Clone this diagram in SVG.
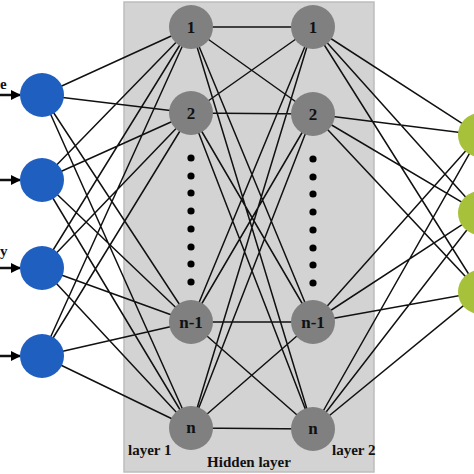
<svg xmlns="http://www.w3.org/2000/svg" width="474" height="474" viewBox="0 0 474 474">
<defs>
<style>
.box{fill:#d3d3d3;stroke:#bdbdbd;stroke-width:1.5}
.e{stroke:#111;stroke-width:1.5;fill:none}
.in{fill:#1f5fc0}
.hid{fill:#808080}
.out{fill:#a7c23a}
.dot{fill:#000}
.t{font-family:"Liberation Serif","Times New Roman",serif;font-weight:bold;font-size:15px;fill:#111}
.n{font-size:17px;text-anchor:middle}
.c{text-anchor:middle}
</style>
<marker id="ah" viewBox="0 0 10 10" refX="9" refY="5" markerWidth="4" markerHeight="4" orient="auto" markerUnits="strokeWidth">
<path d="M0,0 L10,5 L0,10 z" fill="#000"/>
</marker>
</defs>
<rect class="box" x="124" y="2" width="250" height="470"/>
<g id="connectors" class="e">
<line x1="0" y1="95" x2="20" y2="95" stroke-width="2.5" marker-end="url(#ah)"/>
<line x1="0" y1="180" x2="20" y2="180" stroke-width="2.5" marker-end="url(#ah)"/>
<line x1="0" y1="268" x2="20" y2="268" stroke-width="2.5" marker-end="url(#ah)"/>
<line x1="0" y1="356" x2="20" y2="356" stroke-width="2.5" marker-end="url(#ah)"/>
<path d="M42,95L191,27M42,95L191,113M42,95L191,322M42,95L191,428
M42,180L191,27M42,180L191,113M42,180L191,322M42,180L191,428
M42,268L191,27M42,268L191,113M42,268L191,322M42,268L191,428
M42,356L191,27M42,356L191,113M42,356L191,322M42,356L191,428"/>
<path d="M191,27L313,27M191,27L313,114M191,27L313,322M191,27L313,429
M191,113L313,27M191,113L313,114M191,113L313,322M191,113L313,429
M191,322L313,27M191,322L313,114M191,322L313,322M191,322L313,429
M191,428L313,27M191,428L313,114M191,428L313,322M191,428L313,429"/>
<path d="M313,27L480,135M313,27L480,213M313,27L480,292
M313,114L480,135M313,114L480,213M313,114L480,292
M313,322L480,135M313,322L480,213M313,322L480,292
M313,429L480,135M313,429L480,213M313,429L480,292"/>
</g>
<g id="in1"><circle class="in" cx="42" cy="95" r="22"/></g>
<g id="in2"><circle class="in" cx="42" cy="180" r="22"/></g>
<g id="in3"><circle class="in" cx="42" cy="268" r="22"/></g>
<g id="in4"><circle class="in" cx="42" cy="356" r="22"/></g>
<text class="t" x="0" y="89">e</text>
<text class="t" x="0" y="256">y</text>
<g id="h1-1"><circle class="hid" cx="191" cy="27" r="22"/><text class="t n" x="191" y="33">1</text></g>
<g id="h1-2"><circle class="hid" cx="191" cy="113" r="22"/><text class="t n" x="191" y="119">2</text></g>
<g id="h1-n1"><circle class="hid" cx="191" cy="322" r="22"/><text class="t n" x="191" y="328">n-1</text></g>
<g id="h1-n"><circle class="hid" cx="191" cy="428" r="22"/><text class="t n" x="191" y="433">n</text></g>
<g id="h2-1"><circle class="hid" cx="313" cy="27" r="22"/><text class="t n" x="313" y="33">1</text></g>
<g id="h2-2"><circle class="hid" cx="313" cy="114" r="22"/><text class="t n" x="313" y="120">2</text></g>
<g id="h2-n1"><circle class="hid" cx="313" cy="322" r="22"/><text class="t n" x="313" y="328">n-1</text></g>
<g id="h2-n"><circle class="hid" cx="313" cy="429" r="22"/><text class="t n" x="313" y="434">n</text></g>
<g id="dots1">
<circle class="dot" cx="191" cy="158" r="3.6"/><circle class="dot" cx="191" cy="176" r="3.6"/><circle class="dot" cx="191" cy="193" r="3.6"/><circle class="dot" cx="191" cy="211" r="3.6"/><circle class="dot" cx="191" cy="229" r="3.6"/><circle class="dot" cx="191" cy="247" r="3.6"/><circle class="dot" cx="191" cy="264" r="3.6"/><circle class="dot" cx="191" cy="282" r="3.6"/>
</g>
<g id="dots2">
<circle class="dot" cx="313" cy="159" r="3.6"/><circle class="dot" cx="313" cy="177" r="3.6"/><circle class="dot" cx="313" cy="194" r="3.6"/><circle class="dot" cx="313" cy="212" r="3.6"/><circle class="dot" cx="313" cy="230" r="3.6"/><circle class="dot" cx="313" cy="248" r="3.6"/><circle class="dot" cx="313" cy="265" r="3.6"/><circle class="dot" cx="313" cy="283" r="3.6"/>
</g>
<g id="out1"><circle class="out" cx="480" cy="135" r="22"/></g>
<g id="out2"><circle class="out" cx="480" cy="213" r="22"/></g>
<g id="out3"><circle class="out" cx="480" cy="292" r="22"/></g>
<text class="t" x="128" y="455">layer 1</text>
<text class="t" x="332" y="455">layer 2</text>
<text class="t c" x="249" y="467">Hidden layer</text>
</svg>
